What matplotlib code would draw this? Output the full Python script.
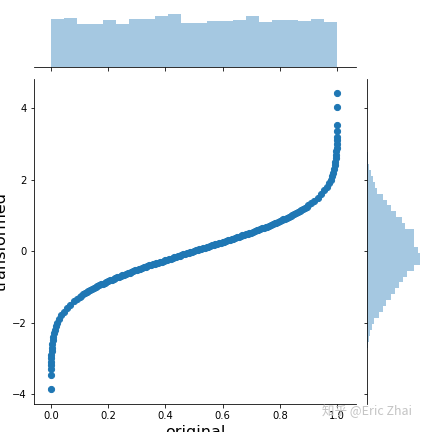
import numpy as np
import matplotlib.pyplot as plt

# scatter points (original -> transformed)
orig = [0.0001, 0.0002, 0.0005, 0.0007, 0.0010, 0.0013, 0.0019, 0.0026, 0.0035, 0.0047,
        0.0062, 0.0082, 0.0107, 0.0139, 0.0179, 0.0228, 0.0287, 0.0359, 0.0446, 0.0548,
        0.0668, 0.0808,
        0.1000, 0.1125, 0.1250, 0.1375, 0.1500, 0.1625, 0.1750, 0.1875, 0.2000, 0.2125,
        0.2250, 0.2375, 0.2500, 0.2625, 0.2750, 0.2875, 0.3000, 0.3125, 0.3250, 0.3375,
        0.3500, 0.3625, 0.3750, 0.3875, 0.4000, 0.4125, 0.4250, 0.4375, 0.4500, 0.4625,
        0.4750, 0.4875, 0.5000, 0.5125, 0.5250, 0.5375, 0.5500, 0.5625, 0.5750, 0.5875,
        0.6000, 0.6125, 0.6250, 0.6375, 0.6500, 0.6625, 0.6750, 0.6875, 0.7000, 0.7125,
        0.7250, 0.7375, 0.7500, 0.7625, 0.7750, 0.7875, 0.8000, 0.8125, 0.8250, 0.8375,
        0.8500, 0.8625, 0.8750, 0.8875, 0.9000,
        0.9192, 0.9332, 0.9452, 0.9554, 0.9641, 0.9713, 0.9772, 0.9821, 0.9861, 0.9893,
        0.9918, 0.9938, 0.9953, 0.9965, 0.9974, 0.9981, 0.9987, 0.9990, 0.9993, 0.9996,
        0.9997, 0.9998, 0.9999]
trans = [-3.86, -3.48, -3.30, -3.20, -3.10, -3.00, -2.90, -2.80, -2.70, -2.60,
         -2.50, -2.40, -2.30, -2.20, -2.10, -2.00, -1.90, -1.80, -1.70, -1.60,
         -1.50, -1.40,
         -1.28, -1.21, -1.15, -1.09, -1.04, -0.98, -0.93, -0.89, -0.84, -0.80,
         -0.76, -0.71, -0.67, -0.64, -0.60, -0.56, -0.52, -0.49, -0.45, -0.42,
         -0.39, -0.35, -0.32, -0.29, -0.25, -0.22, -0.19, -0.16, -0.13, -0.09,
         -0.06, -0.03, 0.00, 0.03, 0.06, 0.09, 0.13, 0.16, 0.19, 0.22,
         0.25, 0.29, 0.32, 0.35, 0.39, 0.42, 0.45, 0.49, 0.52, 0.56,
         0.60, 0.64, 0.67, 0.71, 0.76, 0.80, 0.84, 0.89, 0.93, 0.98,
         1.04, 1.09, 1.15, 1.21, 1.28,
         1.40, 1.50, 1.60, 1.70, 1.80, 1.90, 2.00, 2.10, 2.20, 2.30,
         2.40, 2.50, 2.60, 2.70, 2.80, 2.90, 3.00, 3.10, 3.20, 3.36,
         3.52, 4.05, 4.43]

# extra points read between the ones above (the band is continuous)
orig_b = [0.0900, 0.1063, 0.1188, 0.1313, 0.1438, 0.1563, 0.1688, 0.1813, 0.1938, 0.2063,
          0.2188, 0.2313, 0.2438, 0.2563, 0.2688, 0.2813, 0.2938, 0.3063, 0.3188, 0.3313,
          0.3438, 0.3563, 0.3688, 0.3813, 0.3938, 0.4063, 0.4188, 0.4313, 0.4438, 0.4563,
          0.4688, 0.4813, 0.4938, 0.5063, 0.5188, 0.5313, 0.5438, 0.5563, 0.5688, 0.5813,
          0.5938, 0.6063, 0.6188, 0.6313, 0.6438, 0.6563, 0.6688, 0.6813, 0.6938, 0.7063,
          0.7188, 0.7313, 0.7438, 0.7563, 0.7688, 0.7813, 0.7938, 0.8063, 0.8188, 0.8313,
          0.8438, 0.8563, 0.8688, 0.8813, 0.8938, 0.9100]
trans_b = [-1.34, -1.25, -1.18, -1.12, -1.06, -1.01, -0.96, -0.91, -0.86, -0.82,
           -0.78, -0.73, -0.69, -0.66, -0.62, -0.58, -0.54, -0.51, -0.47, -0.44,
           -0.40, -0.37, -0.34, -0.30, -0.27, -0.24, -0.21, -0.17, -0.14, -0.11,
           -0.08, -0.05, -0.02, 0.02, 0.05, 0.08, 0.11, 0.14, 0.17, 0.21,
           0.24, 0.27, 0.30, 0.34, 0.37, 0.40, 0.44, 0.47, 0.51, 0.54,
           0.58, 0.62, 0.66, 0.69, 0.73, 0.78, 0.82, 0.86, 0.91, 0.96,
           1.01, 1.06, 1.12, 1.18, 1.25, 1.34]

# marginal histogram counts (top: 22 bins on [0, 1]; right: 50 bins from -3.86)
top_counts = [467, 477, 419, 419, 458, 419, 467, 467, 496, 515, 429,
              429, 445, 445, 458, 496, 435, 458, 458, 448, 467, 438]
right_start = -3.86
right_width = 0.1658
right_counts = [1, 0, 1, 2, 3, 5, 8, 13, 29, 41,
                62, 91, 146, 196, 241, 291, 341, 396, 437, 491,
                583, 646, 646, 625, 583, 583, 583, 471, 429, 362,
                300, 246, 196, 125, 104, 75, 50, 29, 19, 12,
                8, 5, 3, 2, 1, 1, 0, 1, 0, 1]

col = '#1f77b4'

fig = plt.figure(figsize=(6, 6), dpi=72)
ax = fig.add_axes([0.0787, 0.0648, 0.7447, 0.753])
ax_top = fig.add_axes([0.0787, 0.8438, 0.7447, 0.1299], sharex=ax)
ax_right = fig.add_axes([0.849, 0.0648, 0.1285, 0.753], sharey=ax)

ax.scatter(orig + orig_b, trans + trans_b, s=38, color=col)
ax.set_xlim(-0.059, 1.065)
ax.set_ylim(-4.28, 4.83)
ax.set_xticks([0.0, 0.2, 0.4, 0.6, 0.8, 1.0])
ax.set_yticks([-4, -2, 0, 2, 4])
ax.spines['top'].set_visible(False)
ax.spines['right'].set_visible(False)
ax.set_xlabel('original', fontsize=16)
ax.set_ylabel('transformed', fontsize=16)

# top marginal
nb = len(top_counts)
edges = np.linspace(0, 1, nb + 1)
ax_top.bar(edges[:-1], top_counts, width=1.0 / nb, align='edge', color=col, alpha=0.4, linewidth=0)
ax_top.set_ylim(0, max(top_counts) * 1.05)
for s in ['top', 'right', 'left']:
    ax_top.spines[s].set_visible(False)
ax_top.tick_params(axis='x', labelbottom=False)
ax_top.tick_params(axis='y', left=False, labelleft=False)

# right marginal
redges = right_start + right_width * np.arange(len(right_counts))
ax_right.barh(redges, right_counts, height=right_width, align='edge', color=col, alpha=0.4, linewidth=0)
ax_right.set_xlim(0, max(right_counts) * 1.05)
for s in ['top', 'right', 'bottom']:
    ax_right.spines[s].set_visible(False)
ax_right.tick_params(axis='y', labelleft=False)
ax_right.tick_params(axis='x', bottom=False, labelbottom=False)

fig.text(0.745, 0.049, '知乎 @Eric Zhai', color='#c4c4c4', fontsize=12.5, va='center',
         family=['Noto Sans CJK SC', 'DejaVu Sans'])

fig.savefig('out.png', dpi=72)
